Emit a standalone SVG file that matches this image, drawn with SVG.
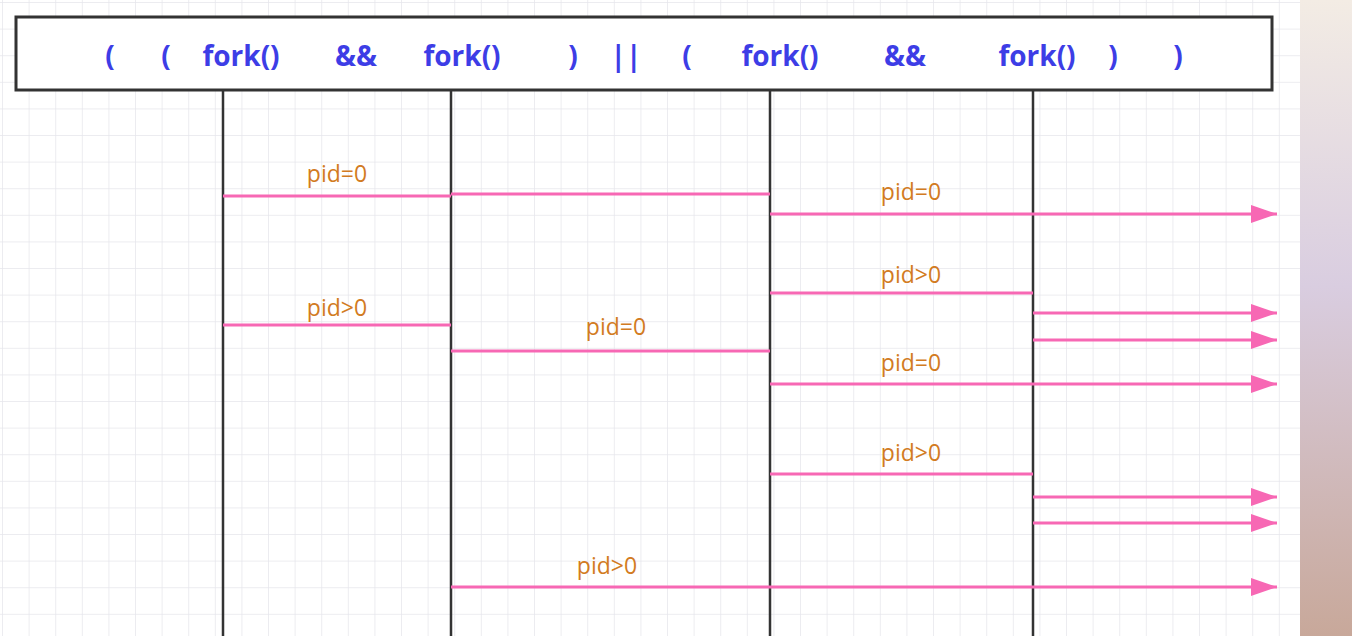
<svg xmlns="http://www.w3.org/2000/svg" width="1352" height="636" viewBox="0 0 1352 636">
<defs>
<pattern id="grid" width="26.6" height="26.6" patternUnits="userSpaceOnUse" x="3" y="3">
<path d="M26.6 0V26.6M0 26.6H26.6" fill="none" stroke="#e6e6ec" stroke-width="1.5"/>
</pattern>
<marker id="ah" viewBox="0 0 26 18" refX="26" refY="9" markerWidth="26" markerHeight="18" markerUnits="userSpaceOnUse" orient="auto">
<path d="M0 0L26 9L0 18Z" fill="#f768b4"/>
</marker>
<linearGradient id="bg" x1="0" y1="0" x2="0" y2="1">
<stop offset="0" stop-color="#f3ece4"/><stop offset="0.45" stop-color="#d9cde0"/><stop offset="1" stop-color="#c8a89a"/>
</linearGradient>
</defs>
<style>
.h{font-family:"Open Sans","Liberation Sans",sans-serif;font-weight:bold;font-size:28px;fill:#3d3de6;text-anchor:middle}
.l{font-family:"Open Sans","Liberation Sans",sans-serif;font-size:23px;fill:#d27b22;text-anchor:middle}
.v{stroke:#333;stroke-width:2.5}
.c{stroke:#f768b4;stroke-width:3;fill:none}
.a{marker-end:url(#ah)}
</style>
<rect width="1352" height="636" fill="#fff"/>
<rect width="1300" height="636" fill="url(#grid)"/>
<rect x="1300" y="0" width="52" height="636" fill="url(#bg)"/>
<g id="header">
<rect x="16" y="17" width="1256" height="73" fill="#fff" stroke="#333" stroke-width="3"/>
<text class="h" x="110" y="66">(</text>
<text class="h" x="166" y="66">(</text>
<text class="h" x="241" y="66">fork()</text>
<text class="h" x="356" y="66">&amp;&amp;</text>
<text class="h" x="462" y="66">fork()</text>
<text class="h" x="573" y="66">)</text>
<text class="h" x="626" y="66">||</text>
<text class="h" x="687" y="66">(</text>
<text class="h" x="780" y="66">fork()</text>
<text class="h" x="905" y="66">&amp;&amp;</text>
<text class="h" x="1037" y="66">fork()</text>
<text class="h" x="1113" y="66">)</text>
<text class="h" x="1178" y="66">)</text>
</g>
<g id="lifelines">
<line class="v" x1="223" y1="90" x2="223" y2="636"/>
<line class="v" x1="451" y1="90" x2="451" y2="636"/>
<line class="v" x1="770" y1="90" x2="770" y2="636"/>
<line class="v" x1="1033" y1="90" x2="1033" y2="636"/>
</g>
<g id="connectors">
<line class="c" x1="223" y1="196" x2="451" y2="196"/>
<line class="c" x1="451" y1="194" x2="770" y2="194"/>
<line class="c a" x1="770" y1="214" x2="1277" y2="214"/>
<line class="c" x1="770" y1="293" x2="1033" y2="293"/>
<line class="c a" x1="1033" y1="313" x2="1277" y2="313"/>
<line class="c a" x1="1033" y1="340" x2="1277" y2="340"/>
<line class="c" x1="223" y1="325" x2="451" y2="325"/>
<line class="c" x1="451" y1="351" x2="770" y2="351"/>
<line class="c a" x1="770" y1="384" x2="1277" y2="384"/>
<line class="c" x1="770" y1="474" x2="1033" y2="474"/>
<line class="c a" x1="1033" y1="497" x2="1277" y2="497"/>
<line class="c a" x1="1033" y1="523" x2="1277" y2="523"/>
<line class="c a" x1="451" y1="587" x2="1277" y2="587"/>
</g>
<g id="labels">
<text class="l" x="337" y="182">pid=0</text>
<text class="l" x="911" y="200">pid=0</text>
<text class="l" x="911" y="283">pid&gt;0</text>
<text class="l" x="337" y="316">pid&gt;0</text>
<text class="l" x="616" y="335">pid=0</text>
<text class="l" x="911" y="371">pid=0</text>
<text class="l" x="911" y="461">pid&gt;0</text>
<text class="l" x="607" y="574">pid&gt;0</text>
</g>
</svg>
